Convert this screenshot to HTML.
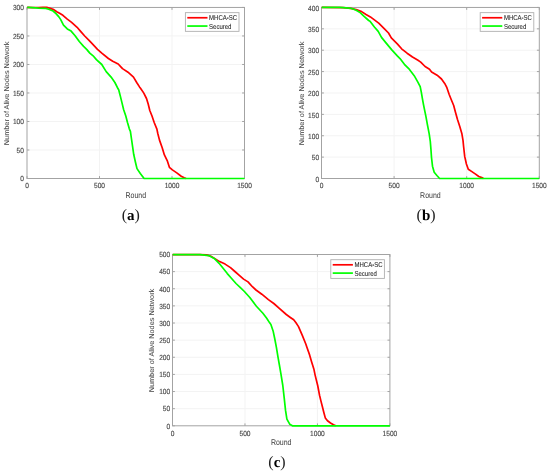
<!DOCTYPE html>
<html><head><meta charset="utf-8"><title>Figure</title>
<style>
html,body{margin:0;padding:0;background:#fff;}
body{width:550px;height:474px;overflow:hidden;}
svg{display:block;text-rendering:geometricPrecision;}
.tk{font-family:"Liberation Sans",Arial,sans-serif;font-size:6.6px;fill:#474747;stroke:#474747;stroke-width:0.12px;}
.lb{font-family:"Liberation Sans",Arial,sans-serif;font-size:7px;fill:#474747;stroke:#474747;stroke-width:0.04px;}
.lg{font-family:"Liberation Sans",Arial,sans-serif;font-size:6px;fill:#2a2a2a;stroke:#2a2a2a;stroke-width:0.08px;}
.cap{font-family:"Liberation Serif","Times New Roman",serif;font-size:15px;fill:#000;}
.pr{font-size:16px;fill:#222;}
</style></head>
<body>
<svg width="550" height="474" viewBox="0 0 550 474">
<rect width="550" height="474" fill="#fff"/>
<line x1="99.5" y1="7.45" x2="99.5" y2="178.5" stroke="#f3f3f3" stroke-width="1"/>
<line x1="172" y1="7.45" x2="172" y2="178.5" stroke="#f3f3f3" stroke-width="1"/>
<line x1="27" y1="149.99" x2="244.5" y2="149.99" stroke="#f3f3f3" stroke-width="1"/>
<line x1="27" y1="121.48" x2="244.5" y2="121.48" stroke="#f3f3f3" stroke-width="1"/>
<line x1="27" y1="92.97" x2="244.5" y2="92.97" stroke="#f3f3f3" stroke-width="1"/>
<line x1="27" y1="64.47" x2="244.5" y2="64.47" stroke="#f3f3f3" stroke-width="1"/>
<line x1="27" y1="35.96" x2="244.5" y2="35.96" stroke="#f3f3f3" stroke-width="1"/>
<rect x="27" y="7.45" width="217.5" height="171.05" fill="none" stroke="#a3a3a3" stroke-width="1"/>
<line x1="27" y1="178.5" x2="29.4" y2="178.5" stroke="#a3a3a3" stroke-width="1"/>
<line x1="244.5" y1="178.5" x2="242.1" y2="178.5" stroke="#a3a3a3" stroke-width="1"/>
<text transform="translate(23.9,181.4) scale(1,1.12)" text-anchor="end" class="tk">0</text>
<line x1="27" y1="149.99" x2="29.4" y2="149.99" stroke="#a3a3a3" stroke-width="1"/>
<line x1="244.5" y1="149.99" x2="242.1" y2="149.99" stroke="#a3a3a3" stroke-width="1"/>
<text transform="translate(23.9,152.89) scale(1,1.12)" text-anchor="end" class="tk">50</text>
<line x1="27" y1="121.48" x2="29.4" y2="121.48" stroke="#a3a3a3" stroke-width="1"/>
<line x1="244.5" y1="121.48" x2="242.1" y2="121.48" stroke="#a3a3a3" stroke-width="1"/>
<text transform="translate(23.9,124.38) scale(1,1.12)" text-anchor="end" class="tk">100</text>
<line x1="27" y1="92.97" x2="29.4" y2="92.97" stroke="#a3a3a3" stroke-width="1"/>
<line x1="244.5" y1="92.97" x2="242.1" y2="92.97" stroke="#a3a3a3" stroke-width="1"/>
<text transform="translate(23.9,95.88) scale(1,1.12)" text-anchor="end" class="tk">150</text>
<line x1="27" y1="64.47" x2="29.4" y2="64.47" stroke="#a3a3a3" stroke-width="1"/>
<line x1="244.5" y1="64.47" x2="242.1" y2="64.47" stroke="#a3a3a3" stroke-width="1"/>
<text transform="translate(23.9,67.37) scale(1,1.12)" text-anchor="end" class="tk">200</text>
<line x1="27" y1="35.96" x2="29.4" y2="35.96" stroke="#a3a3a3" stroke-width="1"/>
<line x1="244.5" y1="35.96" x2="242.1" y2="35.96" stroke="#a3a3a3" stroke-width="1"/>
<text transform="translate(23.9,38.86) scale(1,1.12)" text-anchor="end" class="tk">250</text>
<line x1="27" y1="7.45" x2="29.4" y2="7.45" stroke="#a3a3a3" stroke-width="1"/>
<line x1="244.5" y1="7.45" x2="242.1" y2="7.45" stroke="#a3a3a3" stroke-width="1"/>
<text transform="translate(23.9,10.35) scale(1,1.12)" text-anchor="end" class="tk">300</text>
<line x1="27" y1="178.5" x2="27" y2="176.1" stroke="#a3a3a3" stroke-width="1"/>
<line x1="27" y1="7.45" x2="27" y2="9.85" stroke="#a3a3a3" stroke-width="1"/>
<text transform="translate(27,188.2) scale(1,1.12)" text-anchor="middle" class="tk">0</text>
<line x1="99.5" y1="178.5" x2="99.5" y2="176.1" stroke="#a3a3a3" stroke-width="1"/>
<line x1="99.5" y1="7.45" x2="99.5" y2="9.85" stroke="#a3a3a3" stroke-width="1"/>
<text transform="translate(99.5,188.2) scale(1,1.12)" text-anchor="middle" class="tk">500</text>
<line x1="172" y1="178.5" x2="172" y2="176.1" stroke="#a3a3a3" stroke-width="1"/>
<line x1="172" y1="7.45" x2="172" y2="9.85" stroke="#a3a3a3" stroke-width="1"/>
<text transform="translate(172,188.2) scale(1,1.12)" text-anchor="middle" class="tk">1000</text>
<line x1="244.5" y1="178.5" x2="244.5" y2="176.1" stroke="#a3a3a3" stroke-width="1"/>
<line x1="244.5" y1="7.45" x2="244.5" y2="9.85" stroke="#a3a3a3" stroke-width="1"/>
<text transform="translate(244.5,188.2) scale(1,1.12)" text-anchor="middle" class="tk">1500</text>
<polyline points="27.2,7.45 32.7,7.6 38.5,7.5 43,7.3 47.3,7.45 50.2,8.4 53.8,9.6 56.7,11.8 59.6,13.3 62.9,15.3 67.3,19.1 71.6,22.4 77.1,27.3 80.4,31.1 84.7,36 89.3,40.6 93.1,44.6 97.5,49.3 101.8,53.1 108.4,58.5 112.7,61.3 118.2,64 122.5,68.6 128,72.2 133.5,77.1 136.7,82.5 139.5,86.9 140.5,88.2 143.8,93.1 146.5,98.5 148.2,104 149.8,110.5 152,116 154.2,122.5 156.9,129.1 157.8,133.5 159.5,140.1 162.2,147.7 164.4,154.9 167.2,160.6 169.4,167.3 172.4,169.9 176.8,172.9 181.2,176.2 184.2,177.7 186,178.5" fill="none" stroke="#ff0000" stroke-width="1.7" stroke-linejoin="round" stroke-linecap="butt"/>
<polyline points="27.2,7.45 32.7,7.7 38.5,8.2 45.8,8.4 48.7,9.3 53.1,11 56,13.6 58.9,16.9 60.7,19.6 63.5,25.1 67.3,28.9 71.1,31.1 74.9,35.5 79.3,41.5 83.6,46.4 86.9,49.6 89.8,53.1 93.1,55.8 96.4,59.6 101.8,64.5 106.2,71.6 111.1,77.1 114.9,82.5 118.2,89.1 118.7,89.8 120.4,96.4 122,102.9 123.6,109.5 125.8,116 127.5,122.5 129.4,129.1 130.4,131.3 131.5,139 132.6,146.6 133.7,154.3 135.4,162 137,168.6 140.3,173.5 144.1,178.5 244.5,178.5" fill="none" stroke="#00ff00" stroke-width="1.7" stroke-linejoin="round" stroke-linecap="butt"/>
<text transform="translate(135.75,197.7) scale(1,1.18)" text-anchor="middle" class="lb">Round</text>
<text transform="translate(9,93.38) rotate(-90)" text-anchor="middle" class="lb" textLength="103.6" lengthAdjust="spacingAndGlyphs">Number of Alive Nodes Network</text>
<rect x="185.4" y="12.65" width="53.6" height="18.7" fill="#fff" stroke="#b0b0b0" stroke-width="0.9"/>
<line x1="187.3" y1="17.75" x2="207.5" y2="17.75" stroke="#ff0000" stroke-width="1.7"/>
<line x1="187.3" y1="26.05" x2="207.5" y2="26.05" stroke="#00ff00" stroke-width="1.7"/>
<text transform="translate(209.1,20.35) scale(1,1.18)" class="lg">MHCA-SC</text>
<text transform="translate(209.1,28.55) scale(1,1.18)" class="lg">Secured</text>
<text x="130.8" y="219.8" text-anchor="middle" class="cap"><tspan class="pr">(</tspan><tspan font-weight="bold">a</tspan><tspan class="pr">)</tspan></text>
<line x1="394.1" y1="7.45" x2="394.1" y2="178.5" stroke="#f3f3f3" stroke-width="1"/>
<line x1="466.7" y1="7.45" x2="466.7" y2="178.5" stroke="#f3f3f3" stroke-width="1"/>
<line x1="321.5" y1="157.12" x2="539.3" y2="157.12" stroke="#f3f3f3" stroke-width="1"/>
<line x1="321.5" y1="135.74" x2="539.3" y2="135.74" stroke="#f3f3f3" stroke-width="1"/>
<line x1="321.5" y1="114.36" x2="539.3" y2="114.36" stroke="#f3f3f3" stroke-width="1"/>
<line x1="321.5" y1="92.97" x2="539.3" y2="92.97" stroke="#f3f3f3" stroke-width="1"/>
<line x1="321.5" y1="71.59" x2="539.3" y2="71.59" stroke="#f3f3f3" stroke-width="1"/>
<line x1="321.5" y1="50.21" x2="539.3" y2="50.21" stroke="#f3f3f3" stroke-width="1"/>
<line x1="321.5" y1="28.83" x2="539.3" y2="28.83" stroke="#f3f3f3" stroke-width="1"/>
<rect x="321.5" y="7.45" width="217.8" height="171.05" fill="none" stroke="#a3a3a3" stroke-width="1"/>
<line x1="321.5" y1="178.5" x2="323.9" y2="178.5" stroke="#a3a3a3" stroke-width="1"/>
<line x1="539.3" y1="178.5" x2="536.9" y2="178.5" stroke="#a3a3a3" stroke-width="1"/>
<text transform="translate(319.1,181.7) scale(1,1.12)" text-anchor="end" class="tk">0</text>
<line x1="321.5" y1="157.12" x2="323.9" y2="157.12" stroke="#a3a3a3" stroke-width="1"/>
<line x1="539.3" y1="157.12" x2="536.9" y2="157.12" stroke="#a3a3a3" stroke-width="1"/>
<text transform="translate(319.1,160.32) scale(1,1.12)" text-anchor="end" class="tk">50</text>
<line x1="321.5" y1="135.74" x2="323.9" y2="135.74" stroke="#a3a3a3" stroke-width="1"/>
<line x1="539.3" y1="135.74" x2="536.9" y2="135.74" stroke="#a3a3a3" stroke-width="1"/>
<text transform="translate(319.1,138.94) scale(1,1.12)" text-anchor="end" class="tk">100</text>
<line x1="321.5" y1="114.36" x2="323.9" y2="114.36" stroke="#a3a3a3" stroke-width="1"/>
<line x1="539.3" y1="114.36" x2="536.9" y2="114.36" stroke="#a3a3a3" stroke-width="1"/>
<text transform="translate(319.1,117.56) scale(1,1.12)" text-anchor="end" class="tk">150</text>
<line x1="321.5" y1="92.97" x2="323.9" y2="92.97" stroke="#a3a3a3" stroke-width="1"/>
<line x1="539.3" y1="92.97" x2="536.9" y2="92.97" stroke="#a3a3a3" stroke-width="1"/>
<text transform="translate(319.1,96.17) scale(1,1.12)" text-anchor="end" class="tk">200</text>
<line x1="321.5" y1="71.59" x2="323.9" y2="71.59" stroke="#a3a3a3" stroke-width="1"/>
<line x1="539.3" y1="71.59" x2="536.9" y2="71.59" stroke="#a3a3a3" stroke-width="1"/>
<text transform="translate(319.1,74.79) scale(1,1.12)" text-anchor="end" class="tk">250</text>
<line x1="321.5" y1="50.21" x2="323.9" y2="50.21" stroke="#a3a3a3" stroke-width="1"/>
<line x1="539.3" y1="50.21" x2="536.9" y2="50.21" stroke="#a3a3a3" stroke-width="1"/>
<text transform="translate(319.1,53.41) scale(1,1.12)" text-anchor="end" class="tk">300</text>
<line x1="321.5" y1="28.83" x2="323.9" y2="28.83" stroke="#a3a3a3" stroke-width="1"/>
<line x1="539.3" y1="28.83" x2="536.9" y2="28.83" stroke="#a3a3a3" stroke-width="1"/>
<text transform="translate(319.1,32.03) scale(1,1.12)" text-anchor="end" class="tk">350</text>
<line x1="321.5" y1="7.45" x2="323.9" y2="7.45" stroke="#a3a3a3" stroke-width="1"/>
<line x1="539.3" y1="7.45" x2="536.9" y2="7.45" stroke="#a3a3a3" stroke-width="1"/>
<text transform="translate(319.1,10.65) scale(1,1.12)" text-anchor="end" class="tk">400</text>
<line x1="321.5" y1="178.5" x2="321.5" y2="176.1" stroke="#a3a3a3" stroke-width="1"/>
<line x1="321.5" y1="7.45" x2="321.5" y2="9.85" stroke="#a3a3a3" stroke-width="1"/>
<text transform="translate(321.5,188.2) scale(1,1.12)" text-anchor="middle" class="tk">0</text>
<line x1="394.1" y1="178.5" x2="394.1" y2="176.1" stroke="#a3a3a3" stroke-width="1"/>
<line x1="394.1" y1="7.45" x2="394.1" y2="9.85" stroke="#a3a3a3" stroke-width="1"/>
<text transform="translate(394.1,188.2) scale(1,1.12)" text-anchor="middle" class="tk">500</text>
<line x1="466.7" y1="178.5" x2="466.7" y2="176.1" stroke="#a3a3a3" stroke-width="1"/>
<line x1="466.7" y1="7.45" x2="466.7" y2="9.85" stroke="#a3a3a3" stroke-width="1"/>
<text transform="translate(466.7,188.2) scale(1,1.12)" text-anchor="middle" class="tk">1000</text>
<line x1="539.3" y1="178.5" x2="539.3" y2="176.1" stroke="#a3a3a3" stroke-width="1"/>
<line x1="539.3" y1="7.45" x2="539.3" y2="9.85" stroke="#a3a3a3" stroke-width="1"/>
<text transform="translate(539.3,188.2) scale(1,1.12)" text-anchor="middle" class="tk">1500</text>
<polyline points="321.7,7.45 343.1,7.7 350.7,8.3 356.2,9.6 361.6,11.6 366,14.5 370.4,16.9 374.4,19.9 378.7,23.2 384.2,28.6 388.5,33 391.3,37.9 397.3,43.9 401.6,48.8 407.1,53.2 412.5,57 418,60.3 420.7,62.1 425.1,66.5 429.5,69.2 431.6,71.9 437.1,75.2 441.5,79 444.7,83.4 446.9,87.7 449.1,94.3 451.3,99.7 453.7,105.5 455.4,112 457.5,119.6 459.7,126.2 461.9,133.8 463,140.4 463.6,146.5 464.7,156.4 466.4,164 468.3,169.2 471.5,171.4 475.2,173.9 478.8,176.5 482.5,177.9 483.5,178.5" fill="none" stroke="#ff0000" stroke-width="1.7" stroke-linejoin="round" stroke-linecap="butt"/>
<polyline points="321.7,7.45 339.8,7.45 346.4,7.8 351.8,8.5 356.2,10.2 360.5,12.9 363.8,16.2 368.7,20.5 370,21.2 374.4,27 378.2,31.4 381.5,37.4 386.4,43.4 391.8,49.9 397.3,55.9 400,58.6 404.4,64.3 408.7,68.6 414.2,75.7 418,82.3 420.2,86.6 421.3,92.1 422.4,98.6 423.5,104.6 424.3,108.7 425.9,116.4 427.5,125.1 429.2,133.8 430.3,141.5 430.9,148.7 431.5,157.5 432.5,166.2 434.2,172.2 436.9,175.5 439.6,178.5 539.3,178.5" fill="none" stroke="#00ff00" stroke-width="1.7" stroke-linejoin="round" stroke-linecap="butt"/>
<text transform="translate(430.4,197.7) scale(1,1.18)" text-anchor="middle" class="lb">Round</text>
<text transform="translate(303.5,93.38) rotate(-90)" text-anchor="middle" class="lb" textLength="103.6" lengthAdjust="spacingAndGlyphs">Number of Alive Nodes Network</text>
<rect x="480.2" y="12.65" width="53.6" height="18.7" fill="#fff" stroke="#b0b0b0" stroke-width="0.9"/>
<line x1="482.1" y1="17.75" x2="502.3" y2="17.75" stroke="#ff0000" stroke-width="1.7"/>
<line x1="482.1" y1="26.05" x2="502.3" y2="26.05" stroke="#00ff00" stroke-width="1.7"/>
<text transform="translate(503.9,20.35) scale(1,1.18)" class="lg">MHCA-SC</text>
<text transform="translate(503.9,28.55) scale(1,1.18)" class="lg">Secured</text>
<text x="426.1" y="219.8" text-anchor="middle" class="cap"><tspan class="pr">(</tspan><tspan font-weight="bold">b</tspan><tspan class="pr">)</tspan></text>
<line x1="244.97" y1="254.5" x2="244.97" y2="425.8" stroke="#f3f3f3" stroke-width="1"/>
<line x1="317.43" y1="254.5" x2="317.43" y2="425.8" stroke="#f3f3f3" stroke-width="1"/>
<line x1="172.5" y1="408.67" x2="389.9" y2="408.67" stroke="#f3f3f3" stroke-width="1"/>
<line x1="172.5" y1="391.54" x2="389.9" y2="391.54" stroke="#f3f3f3" stroke-width="1"/>
<line x1="172.5" y1="374.41" x2="389.9" y2="374.41" stroke="#f3f3f3" stroke-width="1"/>
<line x1="172.5" y1="357.28" x2="389.9" y2="357.28" stroke="#f3f3f3" stroke-width="1"/>
<line x1="172.5" y1="340.15" x2="389.9" y2="340.15" stroke="#f3f3f3" stroke-width="1"/>
<line x1="172.5" y1="323.02" x2="389.9" y2="323.02" stroke="#f3f3f3" stroke-width="1"/>
<line x1="172.5" y1="305.89" x2="389.9" y2="305.89" stroke="#f3f3f3" stroke-width="1"/>
<line x1="172.5" y1="288.76" x2="389.9" y2="288.76" stroke="#f3f3f3" stroke-width="1"/>
<line x1="172.5" y1="271.63" x2="389.9" y2="271.63" stroke="#f3f3f3" stroke-width="1"/>
<rect x="172.5" y="254.5" width="217.4" height="171.3" fill="none" stroke="#a3a3a3" stroke-width="1"/>
<line x1="172.5" y1="425.8" x2="174.9" y2="425.8" stroke="#a3a3a3" stroke-width="1"/>
<line x1="389.9" y1="425.8" x2="387.5" y2="425.8" stroke="#a3a3a3" stroke-width="1"/>
<text transform="translate(170.2,428.6) scale(1,1.12)" text-anchor="end" class="tk">0</text>
<line x1="172.5" y1="408.67" x2="174.9" y2="408.67" stroke="#a3a3a3" stroke-width="1"/>
<line x1="389.9" y1="408.67" x2="387.5" y2="408.67" stroke="#a3a3a3" stroke-width="1"/>
<text transform="translate(170.2,411.47) scale(1,1.12)" text-anchor="end" class="tk">50</text>
<line x1="172.5" y1="391.54" x2="174.9" y2="391.54" stroke="#a3a3a3" stroke-width="1"/>
<line x1="389.9" y1="391.54" x2="387.5" y2="391.54" stroke="#a3a3a3" stroke-width="1"/>
<text transform="translate(170.2,394.34) scale(1,1.12)" text-anchor="end" class="tk">100</text>
<line x1="172.5" y1="374.41" x2="174.9" y2="374.41" stroke="#a3a3a3" stroke-width="1"/>
<line x1="389.9" y1="374.41" x2="387.5" y2="374.41" stroke="#a3a3a3" stroke-width="1"/>
<text transform="translate(170.2,377.21) scale(1,1.12)" text-anchor="end" class="tk">150</text>
<line x1="172.5" y1="357.28" x2="174.9" y2="357.28" stroke="#a3a3a3" stroke-width="1"/>
<line x1="389.9" y1="357.28" x2="387.5" y2="357.28" stroke="#a3a3a3" stroke-width="1"/>
<text transform="translate(170.2,360.08) scale(1,1.12)" text-anchor="end" class="tk">200</text>
<line x1="172.5" y1="340.15" x2="174.9" y2="340.15" stroke="#a3a3a3" stroke-width="1"/>
<line x1="389.9" y1="340.15" x2="387.5" y2="340.15" stroke="#a3a3a3" stroke-width="1"/>
<text transform="translate(170.2,342.95) scale(1,1.12)" text-anchor="end" class="tk">250</text>
<line x1="172.5" y1="323.02" x2="174.9" y2="323.02" stroke="#a3a3a3" stroke-width="1"/>
<line x1="389.9" y1="323.02" x2="387.5" y2="323.02" stroke="#a3a3a3" stroke-width="1"/>
<text transform="translate(170.2,325.82) scale(1,1.12)" text-anchor="end" class="tk">300</text>
<line x1="172.5" y1="305.89" x2="174.9" y2="305.89" stroke="#a3a3a3" stroke-width="1"/>
<line x1="389.9" y1="305.89" x2="387.5" y2="305.89" stroke="#a3a3a3" stroke-width="1"/>
<text transform="translate(170.2,308.69) scale(1,1.12)" text-anchor="end" class="tk">350</text>
<line x1="172.5" y1="288.76" x2="174.9" y2="288.76" stroke="#a3a3a3" stroke-width="1"/>
<line x1="389.9" y1="288.76" x2="387.5" y2="288.76" stroke="#a3a3a3" stroke-width="1"/>
<text transform="translate(170.2,291.56) scale(1,1.12)" text-anchor="end" class="tk">400</text>
<line x1="172.5" y1="271.63" x2="174.9" y2="271.63" stroke="#a3a3a3" stroke-width="1"/>
<line x1="389.9" y1="271.63" x2="387.5" y2="271.63" stroke="#a3a3a3" stroke-width="1"/>
<text transform="translate(170.2,274.43) scale(1,1.12)" text-anchor="end" class="tk">450</text>
<line x1="172.5" y1="254.5" x2="174.9" y2="254.5" stroke="#a3a3a3" stroke-width="1"/>
<line x1="389.9" y1="254.5" x2="387.5" y2="254.5" stroke="#a3a3a3" stroke-width="1"/>
<text transform="translate(170.2,257.3) scale(1,1.12)" text-anchor="end" class="tk">500</text>
<line x1="172.5" y1="425.8" x2="172.5" y2="423.4" stroke="#a3a3a3" stroke-width="1"/>
<line x1="172.5" y1="254.5" x2="172.5" y2="256.9" stroke="#a3a3a3" stroke-width="1"/>
<text transform="translate(172.5,435.5) scale(1,1.12)" text-anchor="middle" class="tk">0</text>
<line x1="244.97" y1="425.8" x2="244.97" y2="423.4" stroke="#a3a3a3" stroke-width="1"/>
<line x1="244.97" y1="254.5" x2="244.97" y2="256.9" stroke="#a3a3a3" stroke-width="1"/>
<text transform="translate(244.97,435.5) scale(1,1.12)" text-anchor="middle" class="tk">500</text>
<line x1="317.43" y1="425.8" x2="317.43" y2="423.4" stroke="#a3a3a3" stroke-width="1"/>
<line x1="317.43" y1="254.5" x2="317.43" y2="256.9" stroke="#a3a3a3" stroke-width="1"/>
<text transform="translate(317.43,435.5) scale(1,1.12)" text-anchor="middle" class="tk">1000</text>
<line x1="389.9" y1="425.8" x2="389.9" y2="423.4" stroke="#a3a3a3" stroke-width="1"/>
<line x1="389.9" y1="254.5" x2="389.9" y2="256.9" stroke="#a3a3a3" stroke-width="1"/>
<text transform="translate(389.9,435.5) scale(1,1.12)" text-anchor="middle" class="tk">1500</text>
<polyline points="172.7,254.6 200,254.7 206.5,254.9 210.9,256.2 215.3,258.9 219.6,261.6 225.1,264.1 230.5,267.6 234.9,271.5 239.3,275.3 243.6,279.1 248,281.9 252.4,286.7 256,290 261.8,294.2 268.4,299.6 273.8,303.5 279.3,308.4 286.3,314.5 290,317.2 293.7,319.8 296,322.8 298.5,326.6 302.2,335.1 305.8,344 306.9,347.3 309.6,354.9 311.8,362.5 314,369.6 315,374.6 317.7,385.5 319.6,395.5 320.9,400.9 322.4,406.8 323.9,412.7 325.3,417.9 327.5,420.8 330.5,423 333.5,424.7 335.7,425.8" fill="none" stroke="#ff0000" stroke-width="1.7" stroke-linejoin="round" stroke-linecap="butt"/>
<polyline points="172.7,254.6 200,254.7 208.7,255.6 214.2,258.4 219.1,263.3 223.5,268.7 227.3,273.6 231.6,278.5 236,283.5 240.4,287.6 244.4,291.5 249.8,297.5 256.4,306.2 262.9,313.3 266.7,318.2 269.5,322.6 270.9,324.4 273.1,330.9 274.7,338.5 276.4,347.3 278,357.1 279.4,365 280.8,373.2 282.8,385.5 284.2,397.9 285.5,410.2 286.9,419.1 289.7,424.2 292.4,425.8 389.9,425.8" fill="none" stroke="#00ff00" stroke-width="1.7" stroke-linejoin="round" stroke-linecap="butt"/>
<text transform="translate(281.2,445) scale(1,1.18)" text-anchor="middle" class="lb">Round</text>
<text transform="translate(154,340.55) rotate(-90)" text-anchor="middle" class="lb" textLength="103.6" lengthAdjust="spacingAndGlyphs">Number of Alive Nodes Network</text>
<rect x="330.8" y="259.7" width="53.6" height="18.7" fill="#fff" stroke="#b0b0b0" stroke-width="0.9"/>
<line x1="332.7" y1="264.8" x2="352.9" y2="264.8" stroke="#ff0000" stroke-width="1.7"/>
<line x1="332.7" y1="273.1" x2="352.9" y2="273.1" stroke="#00ff00" stroke-width="1.7"/>
<text transform="translate(354.5,267.4) scale(1,1.18)" class="lg">MHCA-SC</text>
<text transform="translate(354.5,275.6) scale(1,1.18)" class="lg">Secured</text>
<text x="277" y="466.5" text-anchor="middle" class="cap"><tspan class="pr">(</tspan><tspan font-weight="bold">c</tspan><tspan class="pr">)</tspan></text>
</svg>
</body></html>
